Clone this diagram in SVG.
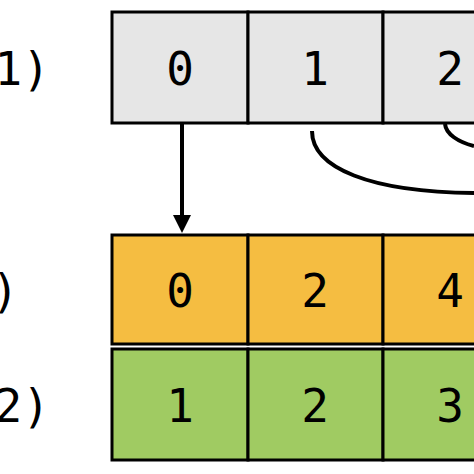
<svg xmlns="http://www.w3.org/2000/svg" width="474" height="474" viewBox="0 0 474 474">
<defs>
<style>
.t{font-family:"DejaVu Sans Mono","Liberation Mono",monospace;font-size:46px;fill:#000;text-anchor:middle}
.lb{font-family:"DejaVu Sans Mono","Liberation Mono",monospace;font-size:46px;fill:#000;text-anchor:end}
.g{fill:#E6E6E6;stroke:#000;stroke-width:3}
.o{fill:#F5BD41;stroke:#000;stroke-width:3}
.gr{fill:#A0CB62;stroke:#000;stroke-width:3}
.c{fill:none;stroke:#000;stroke-width:4}
</style>
<marker id="ah" markerWidth="10" markerHeight="10" refX="9" refY="5" orient="auto" markerUnits="userSpaceOnUse" viewBox="0 0 10 10">
<path d="M0,0 L10,5 L0,10 z" fill="#000"/>
</marker>
</defs>
<rect width="474" height="474" fill="#fff"/>
<text class="lb" x="50" y="85">1)</text>
<text class="lb" x="19" y="307">)</text>
<text class="lb" x="50" y="422">2)</text>
<g id="top0"><rect class="g" x="112" y="12" width="136" height="111"/><text class="t" x="180" y="85">0</text></g>
<g id="top1"><rect class="g" x="248" y="12" width="135" height="111"/><text class="t" x="315" y="85">1</text></g>
<g id="top2"><rect class="g" x="383" y="12" width="135" height="111"/><text class="t" x="450" y="85">2</text></g>
<g id="mid0"><rect class="o" x="112" y="235" width="136" height="109"/><text class="t" x="180" y="307">0</text></g>
<g id="mid1"><rect class="o" x="248" y="235" width="135" height="109"/><text class="t" x="315" y="307">2</text></g>
<g id="mid2"><rect class="o" x="383" y="235" width="135" height="109"/><text class="t" x="450" y="307">4</text></g>
<g id="bot0"><rect class="gr" x="112" y="349" width="136" height="111"/><text class="t" x="180" y="422">1</text></g>
<g id="bot1"><rect class="gr" x="248" y="349" width="135" height="111"/><text class="t" x="315" y="422">2</text></g>
<g id="bot2"><rect class="gr" x="383" y="349" width="135" height="111"/><text class="t" x="450" y="422">3</text></g>
<g id="connectors">
<line class="c" x1="182" y1="123" x2="182" y2="216"/>
<path d="M173,215 L191,215 L182,233 z" fill="#000"/>
<path class="c" d="M312,131 C312,168 370,192 474,193"/>
<path class="c" d="M445,124 C446,134 458,142 474,146"/>
</g>
</svg>
